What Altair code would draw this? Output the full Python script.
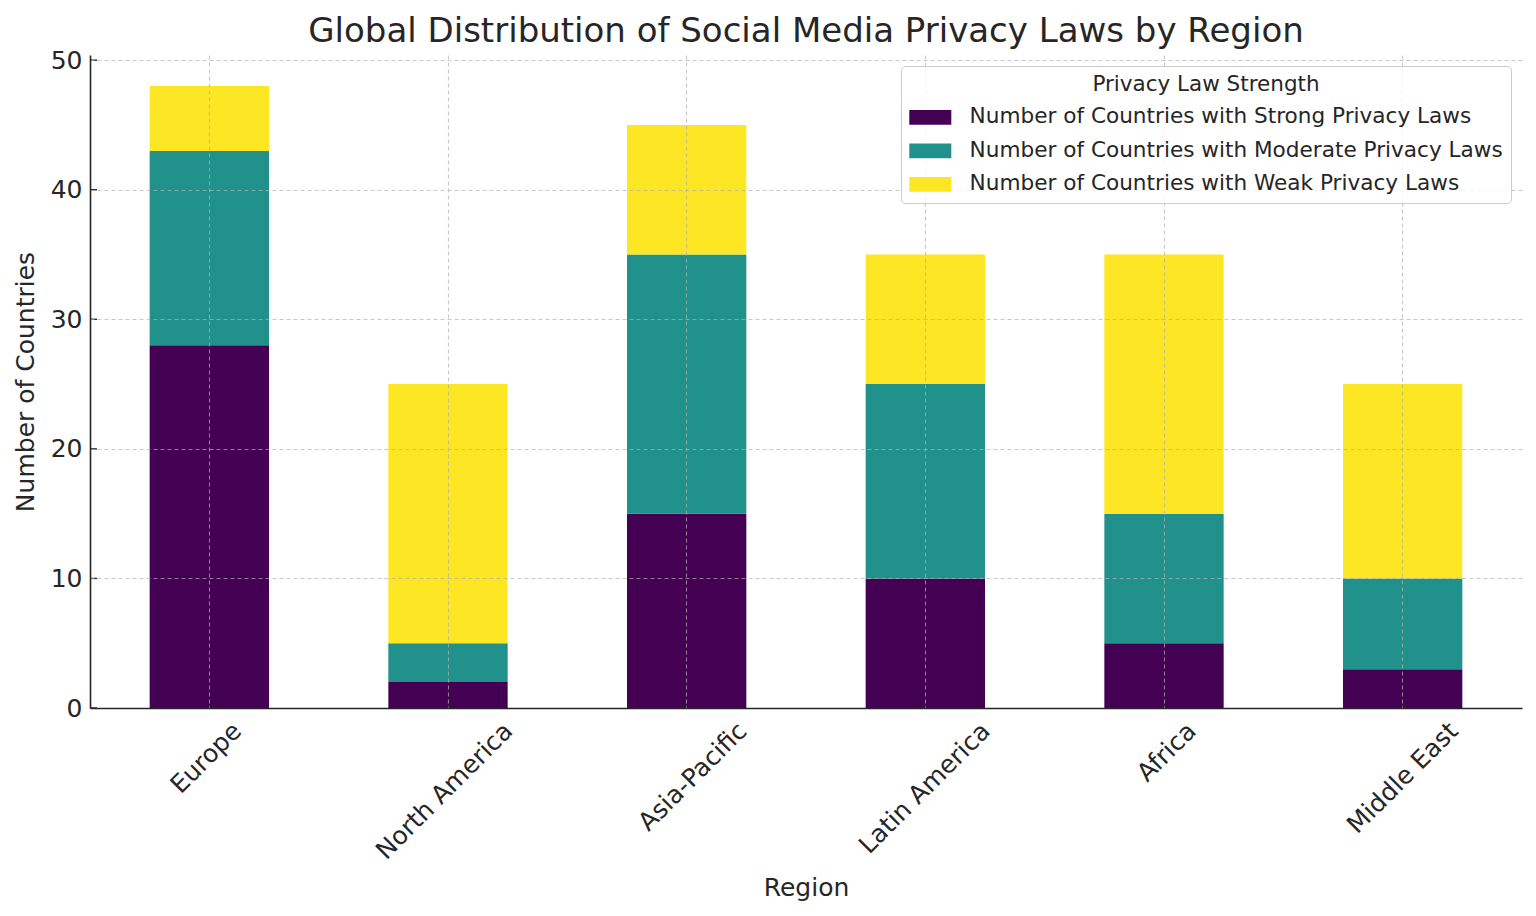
import altair as alt
import pandas as pd

# Countries per region, split by strength of social-media privacy law
regions = ["Europe", "North America", "Asia-Pacific", "Latin America", "Africa", "Middle East"]
strong = [28, 2, 15, 10, 5, 3]
moderate = [15, 3, 20, 15, 10, 7]
weak = [5, 20, 10, 10, 20, 15]

series = [
    "Number of Countries with Strong Privacy Laws",
    "Number of Countries with Moderate Privacy Laws",
    "Number of Countries with Weak Privacy Laws",
]
colors = ["#440154", "#21918c", "#fde725"]
y_ticks = [0, 10, 20, 30, 40, 50]

rows = []
for rank, (name, vals) in enumerate(zip(series, [strong, moderate, weak])):
    for region, v in zip(regions, vals):
        rows.append({"Region": region, "Strength": name, "Count": v, "rank": rank})
df = pd.DataFrame(rows)
region_df = pd.DataFrame({"Region": regions})
ytick_df = pd.DataFrame({"Count": y_ticks})

W, H = 1432, 653
FONT = "DejaVu Sans"
TEXT = "#262626"

x_scale = alt.Scale(domain=regions, paddingInner=0.5, paddingOuter=0.25)
y_scale = alt.Scale(domain=[0, 50.4], nice=False, zero=True)

x_axis = alt.Axis(
    title="Region",
    labels=False,
    ticks=False,
    domainColor=TEXT,
    domainWidth=1.6,
    grid=True,
    gridDash=[4, 3],
    gridColor="#b0b0b0",
    gridOpacity=0.7,
    gridWidth=1.1,
    bandPosition=0.5,
    titleFont=FONT,
    titleFontSize=25,
    titleFontWeight="normal",
    titleColor=TEXT,
    titleY=187,
    titleBaseline="alphabetic",
    zindex=1,
)
y_axis = alt.Axis(
    title="Number of Countries",
    values=y_ticks,
    ticks=False,
    labelPadding=8,
    labelFont=FONT,
    labelFontSize=25,
    labelColor=TEXT,
    domainColor=TEXT,
    domainWidth=1.6,
    grid=True,
    gridDash=[4, 3],
    gridColor="#b0b0b0",
    gridOpacity=0.7,
    gridWidth=1.1,
    titleFont=FONT,
    titleFontSize=25,
    titleFontWeight="normal",
    titleColor=TEXT,
    titleX=-57,
    titleY=H / 2,
    titleBaseline="alphabetic",
    zindex=1,
)

bars = alt.Chart(df).mark_bar().encode(
    x=alt.X("Region:N", sort=regions, scale=x_scale, axis=x_axis, title="Region"),
    y=alt.Y("Count:Q", stack="zero", scale=y_scale, axis=y_axis, title="Number of Countries"),
    color=alt.Color(
        "Strength:N",
        scale=alt.Scale(domain=series, range=colors),
        legend=alt.Legend(
            title="Privacy Law Strength",
            orient="top-right",
            offset=11,
            titleAnchor="middle",
            titleFont=FONT,
            titleFontSize=21.5,
            titleFontWeight="normal",
            titleColor=TEXT,
            titlePadding=11,
            titleLimit=0,
            labelFont=FONT,
            labelFontSize=21.6,
            labelColor=TEXT,
            labelLimit=0,
            symbolType="M-1,-0.7 L3,-0.7 L3,0.7 L-1,0.7 Z",
            symbolSize=441,
            symbolStrokeWidth=0,
            symbolOpacity=1,
            labelOffset=39,
            rowPadding=10.5,
            padding=8,
            fillColor="rgba(255,255,255,0.8)",
            strokeColor="#cccccc",
            cornerRadius=4,
            zindex=2,
        ),
    ),
    order=alt.Order("rank:Q"),
)

# Inward tick marks on both spines
y_tick_marks = alt.Chart(ytick_df).mark_rule(color=TEXT, strokeWidth=1.4).encode(
    y=alt.Y("Count:Q", scale=y_scale, title="Number of Countries"),
    x=alt.value(0),
    x2=alt.value(7),
)
x_tick_marks = alt.Chart(region_df).mark_rule(color=TEXT, strokeWidth=1.4).encode(
    x=alt.X("Region:N", sort=regions, scale=x_scale, title="Region"),
    y=alt.value(H),
    y2=alt.value(H - 7),
)

# Rotated category labels, right end placed so each label's box is centred under its bar
x_labels = alt.Chart(region_df).mark_text(
    angle=315,
    align="right",
    baseline="middle",
    font=FONT,
    fontSize=25,
    color=TEXT,
    dx=alt.expr("length(datum.Region) * 3.29"),
    dy=alt.expr("length(datum.Region) * 3.29"),
).encode(
    x=alt.X("Region:N", sort=regions, scale=x_scale, title="Region"),
    y=alt.value(H + 19),
    text="Region:N",
)

chart = (
    alt.layer(bars, y_tick_marks, x_tick_marks, x_labels)
    .properties(
        width=W,
        height=H,
        title=alt.TitleParams(
            "Global Distribution of Social Media Privacy Laws by Region",
            font=FONT,
            fontSize=34,
            fontWeight="normal",
            color=TEXT,
            anchor="middle",
            frame="group",
            offset=8,
            dy=9,
        ),
        autosize=alt.AutoSizeParams(type="none"),
        padding={"left": 90, "top": 55, "right": 14, "bottom": 208},
        background="white",
    )
    .configure_view(stroke=None)
)

chart.save("out.html", embed_options={"renderer": "svg", "actions": False})
